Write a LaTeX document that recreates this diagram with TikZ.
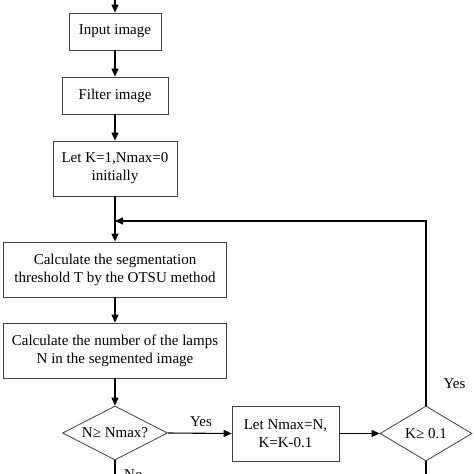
\documentclass[tikz,border=0pt]{standalone}
\usepackage{fontspec}
\setmainfont{Liberation Serif}
\usetikzlibrary{shapes.geometric,arrows.meta}
\begin{document}
\begin{tikzpicture}[x=1pt,y=-1pt,
  every node/.style={font=\fontsize{15}{18}\selectfont},
  box/.style={draw=black!75,line width=0.8pt,align=center,inner sep=0pt},
  dia/.style={diamond,draw=black!75,line width=0.8pt,inner sep=0pt,aspect=1.9},
  arr/.style={line width=1.1pt,-{Triangle[length=8pt,width=7pt]}},
  ln/.style={line width=1.1pt},
  lbl/.style={inner sep=0pt}]
\useasboundingbox (0,0) rectangle (474,474);
\clip (0,0) rectangle (474,474);
\fill[white] (0,0) rectangle (474,474);
\coordinate (top) at (115,0);
\node[box,minimum width=92pt,minimum height=37pt] (in) at (115,31.5) {Input image};
\node[box,minimum width=106pt,minimum height=37pt] (filt) at (115,95.5) {Filter image};
\node[box,minimum width=124pt,minimum height=55pt] (letk) at (115,168.5) {Let K=1,Nmax=0\\initially};
\node[box,minimum width=223pt,minimum height=55pt] (otsu) at (115,269.5) {Calculate the segmentation\\threshold T by the OTSU method};
\node[box,minimum width=223pt,minimum height=55pt] (num) at (115,350.5) {Calculate the number of the lamps\\N in the segmented image};
\node[dia,minimum width=105pt,minimum height=54pt] (d1) at (115,433) {N≥ Nmax?};
\node[box,minimum width=107pt,minimum height=55pt] (letn) at (285.5,433.5) {Let Nmax=N,\\K=K-0.1};
\node[dia,minimum width=92pt,minimum height=55pt] (d2) at (426,433.5) {K≥ 0.1};
\coordinate (j) at (115,221);
\coordinate (b1) at (115,480);
\coordinate (b2) at (426,480);
\draw[arr] (top) -- (in);
\draw[arr] (in) -- (filt);
\draw[arr] (filt) -- (letk);
\draw[arr] (letk) -- (otsu);
\draw[arr] (otsu) -- (num);
\draw[arr] (num) -- (d1);
\draw[arr] (d1.east) -- (letn.west);
\draw[arr] (letn.east) -- (d2.west);
\draw[arr] (d2.north) |- (j);
\draw[ln] (d1.south) -- (b1);
\draw[ln] (d2.south) -- (b2);
\node[lbl] (yes1) at (201,422) {Yes};
\node[lbl] (yes2) at (454.5,384) {Yes};
\node[lbl,anchor=base west] (no1) at (124,479) {No};
\end{tikzpicture}
\end{document}
